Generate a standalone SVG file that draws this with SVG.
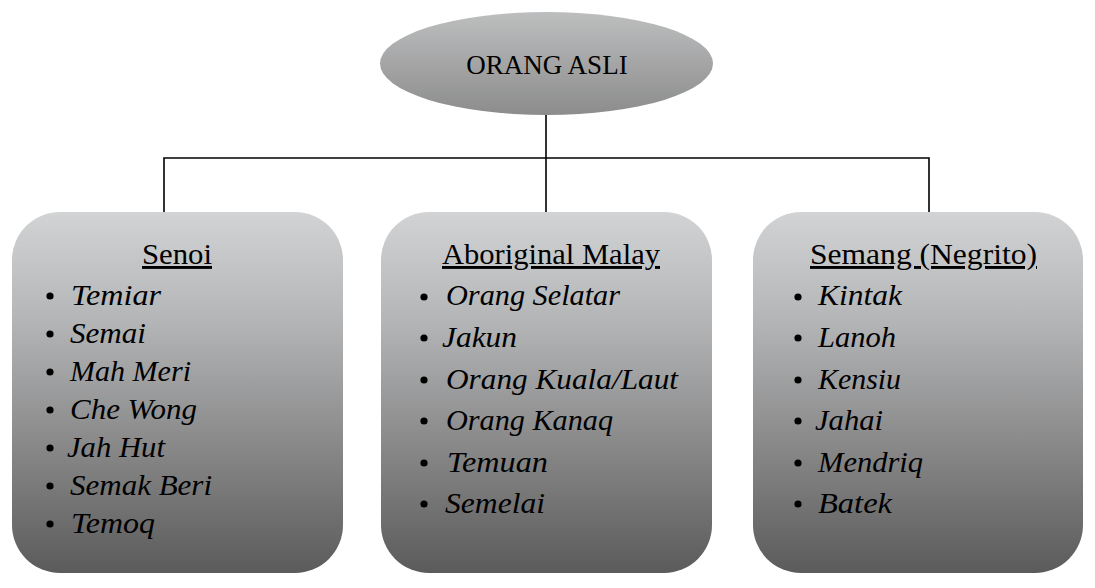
<svg xmlns="http://www.w3.org/2000/svg" width="1095" height="588" viewBox="0 0 1095 588">
<defs>
<linearGradient id="gEll" x1="0" y1="0" x2="0" y2="1">
<stop offset="0" stop-color="#bdbebf"/>
<stop offset="1" stop-color="#8c8c8c"/>
</linearGradient>
<linearGradient id="gBox" x1="0" y1="0" x2="0" y2="1">
<stop offset="0" stop-color="#d2d3d4"/>
<stop offset="0.3" stop-color="#b4b5b6"/>
<stop offset="1" stop-color="#5c5b5c"/>
</linearGradient>
</defs>
<style>
.box{fill:url(#gBox);}
.hd{font-family:"Liberation Serif",serif;font-size:29px;fill:#000;text-decoration:underline;}
.it{font-family:"Liberation Serif",serif;font-size:30px;font-style:italic;fill:#000;}
.bl{fill:#000;}
.conn{stroke:#000;stroke-width:1.6;fill:none;}
</style>
<rect width="1095" height="588" fill="#fff"/>
<g id="connectors">
<path class="conn" d="M546 112 V158 M164 158 H929 M164 157.2 V215 M546 158 V215 M929 157.2 V215"/>
</g>
<g id="root">
<ellipse cx="546.5" cy="63.5" rx="166.5" ry="51.5" fill="url(#gEll)"/>
<text x="547" y="74" font-family="Liberation Serif, serif" font-size="27" text-anchor="middle" fill="#000">ORANG ASLI</text>
</g>
<g id="senoi">
<rect class="box" x="12" y="212" width="331" height="361" rx="48"/>
<text class="hd" x="142" y="264" textLength="70" lengthAdjust="spacingAndGlyphs">Senoi</text>
<g class="bl"><circle cx="50" cy="296" r="3.6"/><circle cx="50" cy="334" r="3.6"/><circle cx="50" cy="372" r="3.6"/><circle cx="50" cy="410" r="3.6"/><circle cx="50" cy="448" r="3.6"/><circle cx="50" cy="486" r="3.6"/><circle cx="50" cy="524" r="3.6"/></g>
<text class="it" x="71" y="305" textLength="90" lengthAdjust="spacingAndGlyphs">Temiar</text>
<text class="it" x="70" y="343" textLength="76" lengthAdjust="spacingAndGlyphs">Semai</text>
<text class="it" x="70" y="381" textLength="121" lengthAdjust="spacingAndGlyphs">Mah Meri</text>
<text class="it" x="70" y="419" textLength="127" lengthAdjust="spacingAndGlyphs">Che Wong</text>
<text class="it" x="67" y="457" textLength="98" lengthAdjust="spacingAndGlyphs">Jah Hut</text>
<text class="it" x="70" y="495" textLength="142" lengthAdjust="spacingAndGlyphs">Semak Beri</text>
<text class="it" x="71" y="533" textLength="84" lengthAdjust="spacingAndGlyphs">Temoq</text>
</g>
<g id="aboriginal-malay">
<rect class="box" x="381" y="212" width="331" height="361" rx="48"/>
<text class="hd" x="442" y="264" textLength="218" lengthAdjust="spacingAndGlyphs">Aboriginal Malay</text>
<g class="bl"><circle cx="424" cy="297" r="3.6"/><circle cx="424" cy="338" r="3.6"/><circle cx="424" cy="380" r="3.6"/><circle cx="424" cy="421" r="3.6"/><circle cx="424" cy="463" r="3.6"/><circle cx="424" cy="504" r="3.6"/></g>
<text class="it" x="446" y="305" textLength="174" lengthAdjust="spacingAndGlyphs">Orang Selatar</text>
<text class="it" x="442" y="347" textLength="75" lengthAdjust="spacingAndGlyphs">Jakun</text>
<text class="it" x="446" y="389" textLength="232" lengthAdjust="spacingAndGlyphs">Orang Kuala/Laut</text>
<text class="it" x="446" y="430" textLength="167" lengthAdjust="spacingAndGlyphs">Orang Kanaq</text>
<text class="it" x="447" y="472" textLength="101" lengthAdjust="spacingAndGlyphs">Temuan</text>
<text class="it" x="445" y="513" textLength="100" lengthAdjust="spacingAndGlyphs">Semelai</text>
</g>
<g id="semang">
<rect class="box" x="753" y="212" width="330" height="361" rx="48"/>
<text class="hd" x="810" y="264" textLength="227" lengthAdjust="spacingAndGlyphs">Semang (Negrito)</text>
<g class="bl"><circle cx="798" cy="297" r="3.6"/><circle cx="798" cy="338" r="3.6"/><circle cx="798" cy="380" r="3.6"/><circle cx="798" cy="421" r="3.6"/><circle cx="798" cy="463" r="3.6"/><circle cx="798" cy="504" r="3.6"/></g>
<text class="it" x="818" y="305" textLength="84" lengthAdjust="spacingAndGlyphs">Kintak</text>
<text class="it" x="818" y="347" textLength="78" lengthAdjust="spacingAndGlyphs">Lanoh</text>
<text class="it" x="818" y="389" textLength="83" lengthAdjust="spacingAndGlyphs">Kensiu</text>
<text class="it" x="815" y="430" textLength="68" lengthAdjust="spacingAndGlyphs">Jahai</text>
<text class="it" x="818" y="472" textLength="105" lengthAdjust="spacingAndGlyphs">Mendriq</text>
<text class="it" x="818" y="513" textLength="74" lengthAdjust="spacingAndGlyphs">Batek</text>
</g>
</svg>
